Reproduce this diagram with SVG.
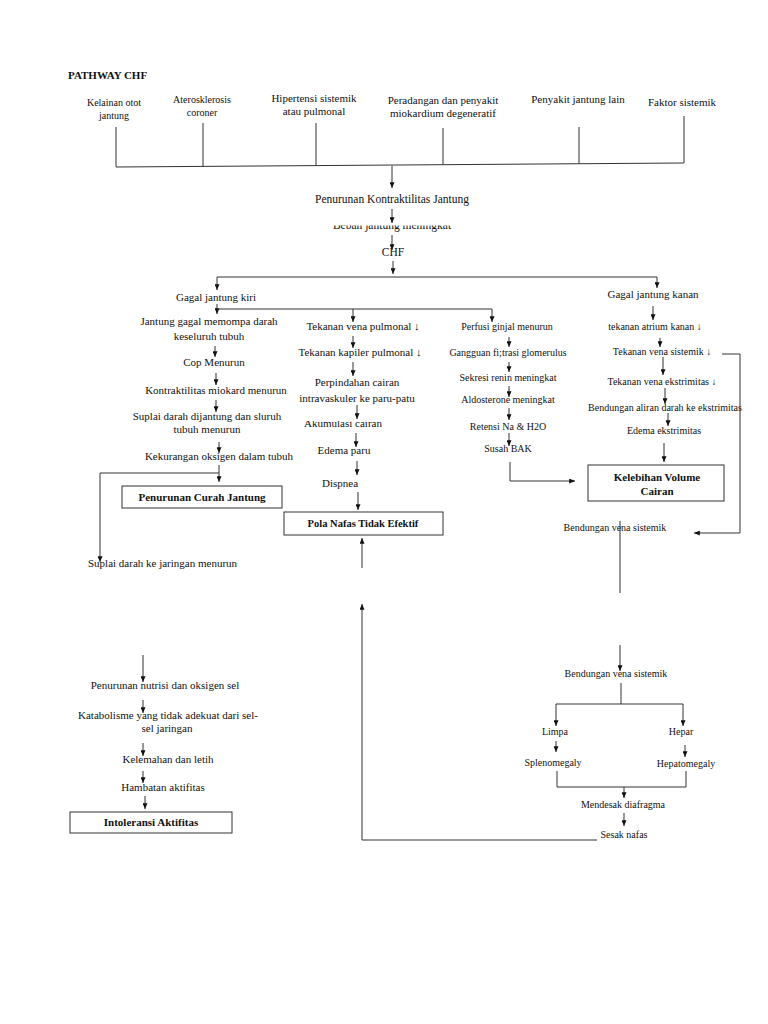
<svg xmlns="http://www.w3.org/2000/svg" width="768" height="1024" viewBox="0 0 768 1024">
<style>
  text { font-family: "Liberation Serif", "Times New Roman", serif; fill: #111; }
  .t { font-size: 11px; text-anchor: middle; }
  .s { font-size: 10px; text-anchor: middle; }
  .l { font-size: 11.5px; text-anchor: middle; }
  .b { font-size: 11px; font-weight: bold; text-anchor: middle; }
  .box { fill: #fff; stroke: #333; stroke-width: 1; }
  .c line, .c path { stroke: #333; stroke-width: 1; fill: none; }
</style>
<defs>
  <marker id="ahd" viewBox="0 0 7 6" refX="7" refY="3" markerWidth="6" markerHeight="5" markerUnits="userSpaceOnUse" orient="auto">
    <path d="M0,0 L7,3 L0,6 z" fill="#111"/>
  </marker>
  <clipPath id="clipBeban"><rect x="300" y="225.5" width="200" height="12"/></clipPath>
  <clipPath id="clipAkum"><rect x="280" y="421" width="130" height="12"/></clipPath>
</defs>
<rect width="768" height="1024" fill="#fff"/>

<g id="title"><text x="68" y="79" style="font-size:11px;font-weight:bold">PATHWAY CHF</text></g>

<g id="cause1"><text class="s" x="114" y="106">Kelainan otot</text><text class="s" x="114" y="119">jantung</text></g>
<g id="cause2"><text class="s" x="202" y="103">Aterosklerosis</text><text class="s" x="202" y="116">coroner</text></g>
<g id="cause3"><text class="t" x="314" y="102">Hipertensi sistemik</text><text class="t" x="314" y="115">atau pulmonal</text></g>
<g id="cause4"><text class="t" x="443" y="104">Peradangan dan penyakit</text><text class="t" x="443" y="117">miokardium degeneratif</text></g>
<g id="cause5"><text class="t" x="578" y="103">Penyakit jantung lain</text></g>
<g id="cause6"><text class="t" x="682" y="106">Faktor sistemik</text></g>

<g id="kontraktilitas"><text class="l" x="392" y="203">Penurunan Kontraktilitas Jantung</text></g>
<g id="beban"><text class="l" x="392" y="229" clip-path="url(#clipBeban)">Beban jantung meningkat</text></g>
<g id="chf"><text class="l" x="393" y="256">CHF</text></g>

<g id="gjkiri"><text class="t" x="216" y="301">Gagal jantung kiri</text></g>
<g id="gjkanan"><text class="t" x="653" y="298">Gagal jantung kanan</text></g>

<g id="l1"><text class="t" x="209" y="325">Jantung gagal memompa darah</text><text class="t" x="209" y="340">keseluruh tubuh</text></g>
<g id="l2"><text class="t" x="214" y="366">Cop Menurun</text></g>
<g id="l3"><text class="t" x="216" y="394">Kontraktilitas miokard menurun</text></g>
<g id="l4"><text class="t" x="207" y="420">Suplai darah dijantung dan sluruh</text><text class="t" x="207" y="433">tubuh menurun</text></g>
<g id="l5"><text class="t" x="219" y="460">Kekurangan oksigen dalam tubuh</text></g>
<g id="curah"><rect class="box" x="122" y="486" width="160" height="22"/><text class="b" x="202" y="501">Penurunan Curah Jantung</text></g>
<g id="suplai"><text class="t" x="88" y="567" style="text-anchor:start">Suplai darah ke jaringan menurun</text></g>

<g id="m1"><text class="t" x="363" y="330">Tekanan vena pulmonal ↓</text></g>
<g id="m2"><text class="t" x="360" y="356">Tekanan kapiler pulmonal ↓</text></g>
<g id="m3"><text class="t" x="357" y="386">Perpindahan cairan</text><text class="t" x="357" y="402">intravaskuler ke paru-patu</text></g>
<g id="m4"><text class="t" x="343" y="427" clip-path="url(#clipAkum)">Akumulasi cairan</text></g>
<g id="m5"><text class="t" x="344" y="454">Edema paru</text></g>
<g id="m6"><text class="t" x="340" y="487">Dispnea</text></g>
<g id="pola"><rect class="box" x="284" y="512" width="159" height="23"/><text class="b" x="363" y="527" style="font-size:10.5px">Pola Nafas Tidak Efektif</text></g>

<g id="k1"><text class="s" x="507" y="330">Perfusi ginjal menurun</text></g>
<g id="k2"><text class="s" x="508" y="356">Gangguan fi;trasi glomerulus</text></g>
<g id="k3"><text class="s" x="508" y="381">Sekresi renin meningkat</text></g>
<g id="k4"><text class="s" x="508" y="403">Aldosterone meningkat</text></g>
<g id="k5"><text class="s" x="508" y="430">Retensi Na &amp; H2O</text></g>
<g id="k6"><text class="s" x="508" y="452">Susah BAK</text></g>

<g id="r1"><text class="s" x="655" y="330">tekanan atrium kanan ↓</text></g>
<g id="r2"><text class="s" x="662" y="355">Tekanan vena sistemik ↓</text></g>
<g id="r3"><text class="s" x="662" y="385">Tekanan vena ekstrimitas ↓</text></g>
<g id="r4"><text class="s" x="665" y="411">Bendungan aliran darah ke ekstrimitas</text></g>
<g id="r5"><text class="s" x="664" y="434">Edema ekstrimitas</text></g>
<g id="kelebihan"><rect class="box" x="588" y="465" width="136" height="36"/><text class="b" x="657" y="481">Kelebihan Volume</text><text class="b" x="657" y="495">Cairan</text></g>
<g id="bvs1"><text class="s" x="615" y="531">Bendungan vena sistemik</text></g>

<g id="bvs2"><text class="s" x="616" y="677">Bendungan vena sistemik</text></g>
<g id="limpa"><text class="s" x="555" y="735">Limpa</text></g>
<g id="hepar"><text class="s" x="681" y="735">Hepar</text></g>
<g id="spleno"><text class="s" x="553" y="766">Splenomegaly</text></g>
<g id="hepato"><text class="s" x="686" y="767">Hepatomegaly</text></g>
<g id="mendesak"><text class="s" x="623" y="808">Mendesak diafragma</text></g>
<g id="sesak"><text class="s" x="624" y="838">Sesak nafas</text></g>

<g id="b1"><text class="t" x="165" y="689">Penurunan nutrisi dan oksigen sel</text></g>
<g id="b2"><text class="t" x="168" y="719">Katabolisme yang tidak adekuat dari sel-</text><text class="t" x="167" y="732">sel jaringan</text></g>
<g id="b3"><text class="t" x="168" y="763">Kelemahan dan letih</text></g>
<g id="b4"><text class="t" x="163" y="791">Hambatan aktifitas</text></g>
<g id="intoleransi"><rect class="box" x="70" y="812" width="162" height="21"/><text class="b" x="151" y="826">Intoleransi Aktifitas</text></g>

<g id="connectors" class="c">
  <line x1="116" y1="127" x2="116" y2="167"/>
  <line x1="203" y1="123" x2="203" y2="166.4"/>
  <line x1="316" y1="123" x2="316" y2="165.6"/>
  <line x1="443" y1="128" x2="443" y2="164.7"/>
  <line x1="579" y1="127" x2="579" y2="163.7"/>
  <line x1="684" y1="116" x2="684" y2="163"/>
  <line x1="116" y1="167" x2="684" y2="163"/>
  <line x1="392" y1="166" x2="392" y2="188" marker-end="url(#ahd)"/>
  <line x1="392" y1="209" x2="392" y2="223" marker-end="url(#ahd)"/>
  <line x1="392" y1="235" x2="392" y2="250" marker-end="url(#ahd)"/>
  <line x1="393" y1="261" x2="393" y2="274" marker-end="url(#ahd)"/>
  <line x1="217" y1="277" x2="657" y2="277"/>
  <line x1="217" y1="277" x2="217" y2="290" marker-end="url(#ahd)"/>
  <line x1="657" y1="277" x2="657" y2="288" marker-end="url(#ahd)"/>
  <line x1="217" y1="304" x2="217" y2="314" marker-end="url(#ahd)"/>
  <line x1="217" y1="309" x2="492" y2="309"/>
  <line x1="353" y1="309" x2="353" y2="322" marker-end="url(#ahd)"/>
  <line x1="492" y1="309" x2="492" y2="322" marker-end="url(#ahd)"/>

  <line x1="215" y1="346" x2="215" y2="357" marker-end="url(#ahd)"/>
  <line x1="216" y1="373" x2="216" y2="385" marker-end="url(#ahd)"/>
  <line x1="216" y1="400" x2="216" y2="412" marker-end="url(#ahd)"/>
  <line x1="219" y1="442" x2="219" y2="453" marker-end="url(#ahd)"/>
  <line x1="219" y1="465" x2="219" y2="482" marker-end="url(#ahd)"/>
  <path d="M219,473 L100,473 L100,562" marker-end="url(#ahd)"/>

  <line x1="353" y1="336" x2="353" y2="348" marker-end="url(#ahd)"/>
  <line x1="353" y1="362" x2="353" y2="376" marker-end="url(#ahd)"/>
  <line x1="357" y1="405" x2="357" y2="419" marker-end="url(#ahd)"/>
  <line x1="356" y1="433" x2="356" y2="447" marker-end="url(#ahd)"/>
  <line x1="357" y1="461" x2="357" y2="475" marker-end="url(#ahd)"/>
  <line x1="358" y1="492" x2="358" y2="510" marker-end="url(#ahd)"/>
  <line x1="362" y1="568" x2="362" y2="538" marker-end="url(#ahd)"/>
  <path d="M597,840 L362,840 L362,604" marker-end="url(#ahd)"/>

  <line x1="509" y1="337" x2="509" y2="347" marker-end="url(#ahd)"/>
  <line x1="509" y1="362" x2="509" y2="372" marker-end="url(#ahd)"/>
  <line x1="509" y1="386" x2="509" y2="397" marker-end="url(#ahd)"/>
  <line x1="509" y1="408" x2="509" y2="420" marker-end="url(#ahd)"/>
  <line x1="509" y1="433" x2="509" y2="446" marker-end="url(#ahd)"/>
  <path d="M510,462 L510,481 L575,481" marker-end="url(#ahd)"/>

  <line x1="653" y1="306" x2="653" y2="320" marker-end="url(#ahd)"/>
  <line x1="660" y1="338" x2="660" y2="347" marker-end="url(#ahd)"/>
  <line x1="663" y1="357" x2="663" y2="375" marker-end="url(#ahd)"/>
  <line x1="665" y1="388" x2="665" y2="404" marker-end="url(#ahd)"/>
  <line x1="668" y1="413" x2="668" y2="426" marker-end="url(#ahd)"/>
  <line x1="664" y1="443" x2="664" y2="462" marker-end="url(#ahd)"/>
  <path d="M722,354 L740,354 L740,533 L694,533" marker-end="url(#ahd)"/>
  <line x1="620" y1="521" x2="620" y2="593"/>
  <line x1="620" y1="645" x2="620" y2="671" marker-end="url(#ahd)"/>
  <line x1="621" y1="683" x2="621" y2="704"/>
  <line x1="556" y1="704" x2="683" y2="704"/>
  <line x1="556" y1="704" x2="556" y2="726" marker-end="url(#ahd)"/>
  <line x1="683" y1="704" x2="683" y2="726" marker-end="url(#ahd)"/>
  <line x1="556" y1="741" x2="556" y2="752" marker-end="url(#ahd)"/>
  <line x1="685" y1="745" x2="685" y2="757" marker-end="url(#ahd)"/>
  <path d="M557,771 L557,787 L686,787 L686,771"/>
  <line x1="624" y1="787" x2="624" y2="798" marker-end="url(#ahd)"/>
  <line x1="624" y1="813" x2="624" y2="826" marker-end="url(#ahd)"/>

  <line x1="143" y1="655" x2="143" y2="682" marker-end="url(#ahd)"/>
  <line x1="143" y1="700" x2="143" y2="713" marker-end="url(#ahd)"/>
  <line x1="143" y1="743" x2="143" y2="756" marker-end="url(#ahd)"/>
  <line x1="143" y1="771" x2="143" y2="783" marker-end="url(#ahd)"/>
  <line x1="145" y1="796" x2="145" y2="809" marker-end="url(#ahd)"/>
</g>
</svg>
